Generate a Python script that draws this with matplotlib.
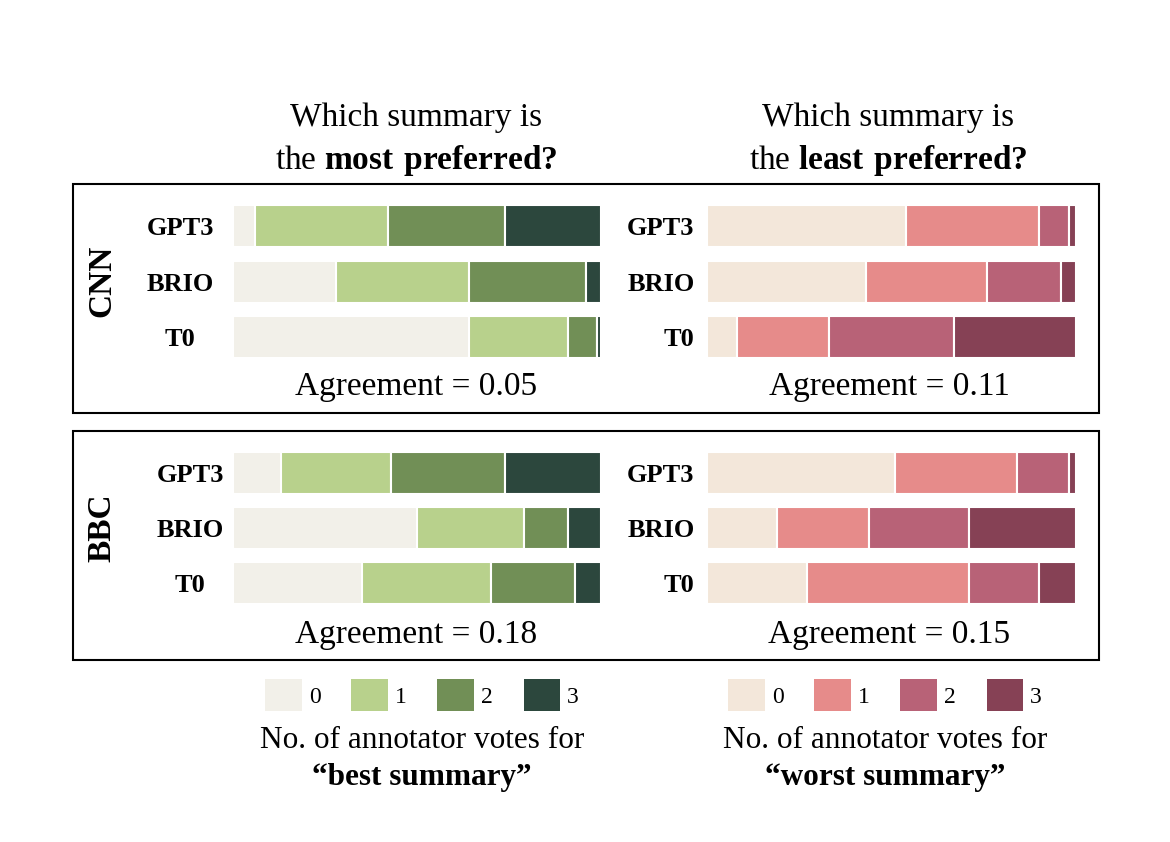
import matplotlib.pyplot as plt
from matplotlib.patches import Patch, Rectangle
import numpy as np

plt.rcParams["font.family"] = ["Liberation Serif", "DejaVu Serif"]
plt.rcParams["mathtext.fontset"] = "custom"
plt.rcParams["mathtext.rm"] = "Liberation Serif"
plt.rcParams["mathtext.bf"] = "Liberation Serif:bold"

# share of summaries (%) per number of annotator votes (0, 1, 2, 3)
models = ["GPT3", "BRIO", "T0"]
votes = ["0", "1", "2", "3"]

cnn_best = np.array([
    [6, 36, 32, 26],
    [28, 36, 32, 4],
    [64, 27, 8, 1],
])
cnn_worst = np.array([
    [54, 36, 8, 2],
    [43, 33, 20, 4],
    [8, 25, 34, 33],
])
bbc_best = np.array([
    [13, 30, 31, 26],
    [50, 29, 12, 9],
    [35, 35, 23, 7],
])
bbc_worst = np.array([
    [51, 33, 14, 2],
    [19, 25, 27, 29],
    [27, 44, 19, 10],
])
agreement = {"cnn_best": 0.05, "cnn_worst": 0.11, "bbc_best": 0.18, "bbc_worst": 0.15}

green = ["#F2F0E9", "#B8D18C", "#718F56", "#2C473D"]
pink = ["#F3E7DA", "#E68B8A", "#B86277", "#864155"]

W, H = 1170, 842
fig = plt.figure(figsize=(W / 100, H / 100), dpi=100)


def px_axes(x0, y0, x1, y1):
    """Axes from pixel box (top-left origin)."""
    return fig.add_axes([x0 / W, 1 - y1 / H, (x1 - x0) / W, (y1 - y0) / H])


def stacked(ax, data, colors, label_pad, label_ha):
    y = np.arange(len(models))
    left = np.zeros(len(models))
    for k in range(data.shape[1]):
        ax.barh(y, data[:, k], left=left, height=0.76, color=colors[k],
                edgecolor="white", linewidth=1.5)
        left += data[:, k]
    ax.set_xlim(0, 100)
    ax.set_ylim(2.5, -0.5)
    ax.set_yticks(y, labels=models)
    for lab in ax.get_yticklabels():
        lab.set_fontweight("bold")
        lab.set_fontsize(19)
        lab.set_horizontalalignment(label_ha)
    ax.tick_params(axis="y", length=0, pad=label_pad)
    ax.set_xticks([])
    for s in ax.spines.values():
        s.set_visible(False)


ax1 = px_axes(233, 198.5, 601, 365)
stacked(ax1, cnn_best, green, 38, "center")
ax2 = px_axes(707, 198.5, 1076, 365)
stacked(ax2, cnn_worst, pink, 9, "right")
ax3 = px_axes(233, 445.5, 601, 611)
stacked(ax3, bbc_best, green, 31, "center")
ax4 = px_axes(707, 445.5, 1076, 611)
stacked(ax4, bbc_worst, pink, 9, "right")

fs = 24
fig.text(416 / W, 1 - 118 / H, "Which summary is", ha="center", va="center", fontsize=fs)
fig.text(416 / W, 1 - 161 / H, r"the $\mathbf{most\ preferred?}$", ha="center", va="center", fontsize=fs)
fig.text(888 / W, 1 - 118 / H, "Which summary is", ha="center", va="center", fontsize=fs)
fig.text(888 / W, 1 - 161 / H, r"the $\mathbf{least\ preferred?}$", ha="center", va="center", fontsize=fs)

fig.text(416 / W, 1 - 387 / H, f"Agreement = {agreement['cnn_best']:.2f}", ha="center", va="center", fontsize=fs)
fig.text(889 / W, 1 - 387 / H, f"Agreement = {agreement['cnn_worst']:.2f}", ha="center", va="center", fontsize=fs)
fig.text(416 / W, 1 - 635 / H, f"Agreement = {agreement['bbc_best']:.2f}", ha="center", va="center", fontsize=fs)
fig.text(889 / W, 1 - 635 / H, f"Agreement = {agreement['bbc_worst']:.2f}", ha="center", va="center", fontsize=fs)

fig.text(102 / W, 1 - 281 / H, "CNN", rotation=90, ha="center", va="center", fontsize=fs, fontweight="bold")
fig.text(102 / W, 1 - 528 / H, "BBC", rotation=90, ha="center", va="center", fontsize=fs, fontweight="bold")

# boxes around each dataset row
for top, bottom in [(184, 413), (431, 660)]:
    fig.patches.append(Rectangle((73 / W, 1 - bottom / H), (1099 - 73) / W, (bottom - top) / H,
                                 transform=fig.transFigure, fill=False,
                                 edgecolor="black", linewidth=1.5))

# legends
for colors, cx, what in [(green, 422, "best"), (pink, 885, "worst")]:
    handles = [Patch(facecolor=c, edgecolor="none") for c in colors]
    fig.legend(handles, votes, loc="center", bbox_to_anchor=(cx / W, 1 - 695 / H),
               ncol=4, frameon=False, fontsize=17, handlelength=1.55, handleheight=1.75,
               handletextpad=0.3, columnspacing=1.3)
    fig.text(cx / W, 1 - 740 / H, "No. of annotator votes for", ha="center", va="center", fontsize=22.5)
    fig.text(cx / W, 1 - 777 / H, f"\u201c{what} summary\u201d", ha="center", va="center",
             fontsize=22.5, fontweight="bold")

fig.savefig("out.png", dpi=100)
